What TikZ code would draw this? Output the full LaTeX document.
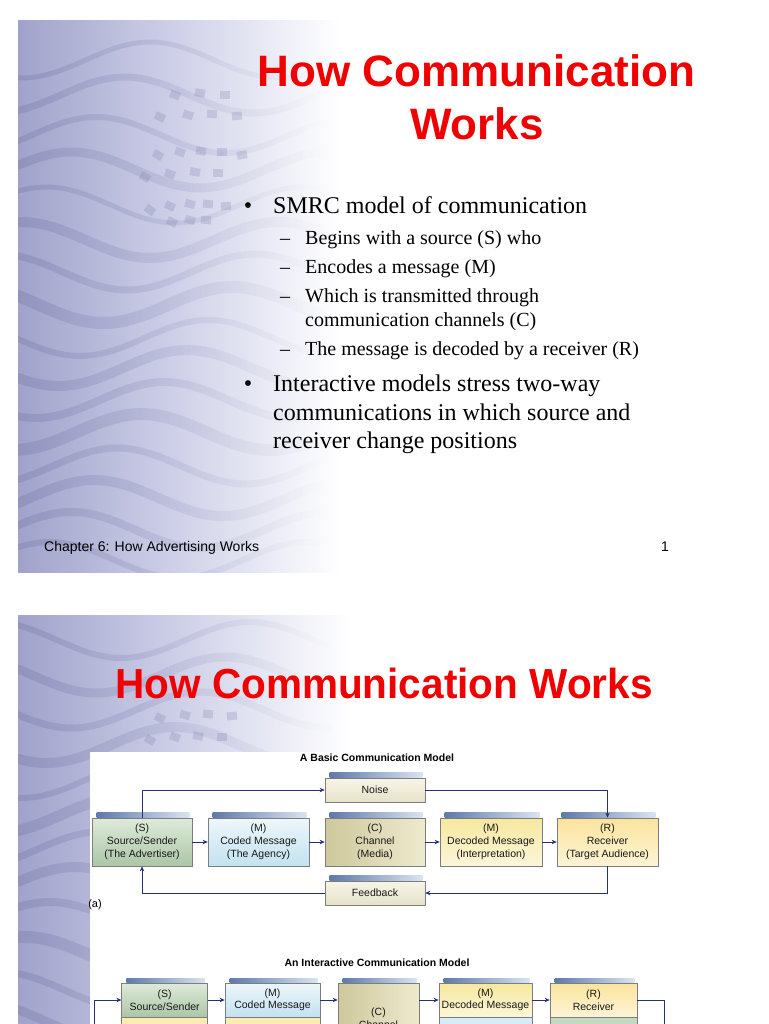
\documentclass[tikz,border=0pt]{standalone}
\usepackage{fontspec}
\usepackage{graphicx}
\setmainfont{Liberation Serif}
\newfontfamily\arialf{Liberation Sans}
\usetikzlibrary{arrows.meta,fadings}

\definecolor{tred}{RGB}{240,0,0}
\definecolor{lavA}{RGB}{160,162,202}
\definecolor{lavB}{RGB}{198,200,228}
\definecolor{lavD}{RGB}{112,114,164}
\definecolor{navy}{RGB}{38,48,118}
\definecolor{bgray}{RGB}{125,125,125}
\definecolor{sTop}{RGB}{222,234,218}
\definecolor{sBot}{RGB}{172,198,166}
\definecolor{mTop}{RGB}{238,247,251}
\definecolor{mBot}{RGB}{194,226,240}
\definecolor{cL}{RGB}{206,200,156}
\definecolor{cR}{RGB}{238,234,206}
\definecolor{dTop}{RGB}{247,232,158}
\definecolor{dBot}{RGB}{252,246,218}
\definecolor{rTop}{RGB}{250,228,156}
\definecolor{rBot}{RGB}{253,244,214}
\definecolor{nTop}{RGB}{247,245,232}
\definecolor{nBot}{RGB}{230,226,200}
\definecolor{tabD}{RGB}{94,122,170}
\definecolor{tabL}{RGB}{218,228,240}
\definecolor{yelLow}{RGB}{252,236,180}
\definecolor{bluLow}{RGB}{214,236,246}
\definecolor{grnLow}{RGB}{196,218,192}

\pgfdeclarehorizontalshading{slbg}{100bp}{color(0bp)=(lavA); color(25bp)=(lavA); color(45bp)=(lavB); color(75bp)=(white); color(100bp)=(white)}
\tikzfading[name=fadeR, left color=transparent!0, right color=transparent!100]

\begin{document}
\begin{tikzpicture}[x=1pt,y=-1pt,
  title/.style={font=\arialf\bfseries\fontsize{44}{50}\selectfont, text=tred, inner sep=0, anchor=base},
  btext/.style={font=\fontsize{24}{28}\selectfont, inner sep=0, anchor=base west},
  stext/.style={font=\fontsize{20}{24}\selectfont, inner sep=0, anchor=base west},
  bmark/.style={font=\fontsize{24}{28}\selectfont, inner sep=0, anchor=base},
  smark/.style={font=\fontsize{20}{24}\selectfont, inner sep=0, anchor=base},
  footer/.style={font=\arialf\fontsize{14}{16}\selectfont, inner sep=0, anchor=base west},
  box/.style={draw=bgray, line width=0.7pt, inner sep=0, align=center, text=black!90,
    font=\arialf\fontsize{10.5}{13}\selectfont},
  bbox/.style={box, font=\arialf\fontsize{10.5}{12.5}\selectfont},
  dtitle/.style={font=\arialf\bfseries\fontsize{10.5}{12}\selectfont, inner sep=0},
  conn/.style={draw=navy, line width=0.9pt, -{Stealth[length=5pt,width=4.5pt]}},
  plain/.style={draw=navy, line width=0.9pt},
  wave/.style={lavD, line cap=round, opacity=0.3, path fading=fadeR},
  tile/.style={fill=lavD, opacity=0.22}
]
\useasboundingbox (0,0) rectangle (768,1024);
\clip (0,0) rectangle (768,1024);
\fill[white] (0,0) rectangle (768,1024);

% ---------- slide 1 background ----------
\shade[shading=slbg] (18,21) rectangle (340,572);
\begin{scope}
  \clip (18,21) rectangle (340,572);
  \foreach \yy/\ww in {60/5,95/7,135/6,170/9,205/5,240/10,272/7,305/12,338/6,368/10,400/8,432/12,466/7,498/10,530/8,560/6}
    \draw[wave, line width=\ww pt] plot[domain=18:320, samples=40, smooth] (\x, {\yy + 18*sin(1.4*\x+\yy)});
  \foreach \px/\py/\r in {175/95/-20,200/93/-10,225/95/0,160/117/-25,188/115/-15,212/114/-5,237/116/5,
      158/155/-30,180/152/-20,201/151/-10,222/152/0,242/155/10,145/177/-30,170/174/-20,195/172/-10,218/173/0,
      150/210/-35,170/206/-25,190/204/-15,208/204/-5,226/206/5,172/222/-25,190/220/-15,206/220/-5}
    \fill[tile, rotate around={\r:(\px,\py)}] (\px-5,\py-4) rectangle (\px+5,\py+4);
\end{scope}

% ---------- slide 1 text ----------
\node[title] (t1a) at (476.5,87) {How Communication};
\node[title] (t1b) at (477,140) {Works};

\node[bmark] (b1) at (248,213.3) {•};
\node[btext] (l1) at (273,213.3) {SMRC model of communication};
\node[smark] (d1) at (285,244.5) {–};
\node[stext] (l2) at (305,244.5) {Begins with a source (S) who};
\node[smark] (d2) at (285,273.5) {–};
\node[stext] (l3) at (305,273.5) {Encodes a message (M)};
\node[smark] (d3) at (285,302) {–};
\node[stext] (l4) at (305,302) {Which is transmitted through};
\node[stext] (l5) at (305,326.7) {communication channels (C)};
\node[smark] (d4) at (285,355.7) {–};
\node[stext] (l6) at (305,355.7) {The message is decoded by a receiver (R)};
\node[bmark] (b2) at (248,391.5) {•};
\node[btext] (l7) at (273,391.5) {Interactive models stress two-way};
\node[btext] (l8) at (273,420) {communications in which source and};
\node[btext] (l9) at (273,448.5) {receiver change positions};

\node[footer] (f1) at (44,551) {Chapter 6: How Advertising Works};
\node[footer, anchor=base] (f2) at (665,551) {1};

% ---------- slide 2 background ----------
\shade[shading=slbg] (18,615) rectangle (350,1024);
\begin{scope}
  \clip (18,615) rectangle (350,1024);
  \foreach \yy/\ww in {640/6,675/9,710/7,745/10,780/6,815/11,850/7,885/10,920/8,955/12,990/7,1020/9}
    \draw[wave, line width=\ww pt] plot[domain=18:330, samples=40, smooth] (\x, {\yy + 18*sin(1.4*\x+\yy)});
  \foreach \px/\py/\r in {160/718/-25,185/715/-15,208/714/-5,232/716/5,150/740/-30,175/737/-20,198/736/-10,222/737/0}
    \fill[tile, rotate around={\r:(\px,\py)}] (\px-5,\py-4) rectangle (\px+5,\py+4);
\end{scope}

\node[title, font=\arialf\bfseries\fontsize{42}{48}\selectfont] (t2) at (384,698)
  {\scalebox{0.965}[1]{How Communication Works}};

% diagram panel
\fill[white] (90,752) rectangle (700,1024);

% ---------- diagram (a) ----------
\node[dtitle] (ta) at (377,758) {A Basic Communication Model};

\node[box, minimum width=100, minimum height=48, top color=sTop, bottom color=sBot] (aS) at (142,842)
  {(S)\\Source/Sender\\(The Advertiser)};
\node[box, minimum width=101, minimum height=48, top color=mTop, bottom color=mBot] (aM) at (258.5,842)
  {(M)\\Coded Message\\(The Agency)};
\node[box, minimum width=100, minimum height=48, left color=cL, right color=cR] (aC) at (375,842)
  {(C)\\Channel\\(Media)};
\node[box, minimum width=102, minimum height=48, top color=dTop, bottom color=dBot] (aD) at (491,842)
  {(M)\\Decoded Message\\(Interpretation)};
\node[box, minimum width=101, minimum height=48, top color=rTop, bottom color=rBot] (aR) at (607.5,842)
  {(R)\\Receiver\\(Target Audience)};
\node[box, minimum width=100, minimum height=24, top color=nTop, bottom color=nBot] (aN) at (375,790) {Noise};
\node[box, minimum width=100, minimum height=24, top color=nTop, bottom color=nBot] (aF) at (375,893) {Feedback};

\foreach \n in {aS,aM,aC,aD,aR,aN,aF}
  \shade[left color=tabD, right color=tabL] ([xshift=5pt]\n.north west) rectangle ([xshift=-3pt,yshift=5pt]\n.north east);

\draw[conn] (aS.east) -- (aM.west);
\draw[conn] (aM.east) -- (aC.west);
\draw[conn] (aC.east) -- (aD.west);
\draw[conn] (aD.east) -- (aR.west);
\draw[conn] (aS.north) |- (aN.west);
\draw[conn] (aN.east) -| (aR.north);
\draw[conn] (aR.south) |- (aF.east);
\draw[conn] (aF.west) -| (aS.south);

\node[font=\arialf\fontsize{11}{13}\selectfont, inner sep=0] (la) at (95,905) {(a)};

% ---------- diagram (b) ----------
\node[dtitle] (tb) at (377,963) {An Interactive Communication Model};

\node[bbox, minimum width=86, minimum height=34, top color=sTop, bottom color=sBot] (bS) at (164.7,1000)
  {(S)\\Source/Sender};
\node[bbox, minimum width=86, minimum height=34, fill=yelLow] (bSl) at (164.7,1034) {};
\node[bbox, minimum width=95, minimum height=34, top color=mTop, bottom color=mBot] (bM) at (272.5,1000)
  {(M)\\Coded Message};
\node[bbox, minimum width=95, minimum height=34, fill=yelLow] (bMl) at (272.5,1034) {};
\node[box, minimum width=81, minimum height=70, left color=cL, right color=cR] (bC) at (378.5,1018)
  {(C)\\Channel};
\node[bbox, minimum width=93, minimum height=34, top color=dTop, bottom color=dBot] (bD) at (485.5,1000)
  {(M)\\Decoded Message};
\node[bbox, minimum width=93, minimum height=34, fill=bluLow] (bDl) at (485.5,1034) {};
\node[bbox, minimum width=87, minimum height=34, top color=rTop, bottom color=rBot] (bR) at (593.5,1000)
  {(R)\\Receiver};
\node[bbox, minimum width=87, minimum height=34, fill=grnLow] (bRl) at (593.5,1034) {};

\foreach \n in {bS,bM,bC,bD,bR}
  \shade[left color=tabD, right color=tabL] ([xshift=5pt]\n.north west) rectangle ([xshift=-3pt,yshift=4pt]\n.north east);

\coordinate (lIn) at (94,1060);
\coordinate (rOut) at (664,1060);
\draw[conn] (lIn) |- (bS.west);
\draw[conn] (bS.east) -- (bM.west);
\draw[conn] (bM.east) -- (bM.east -| bC.west);
\draw[conn] (bC.east |- bD.west) -- (bD.west);
\draw[conn] (bD.east) -- (bR.west);
\draw[plain] (bR.east) -| (rOut);
\end{tikzpicture}
\end{document}
